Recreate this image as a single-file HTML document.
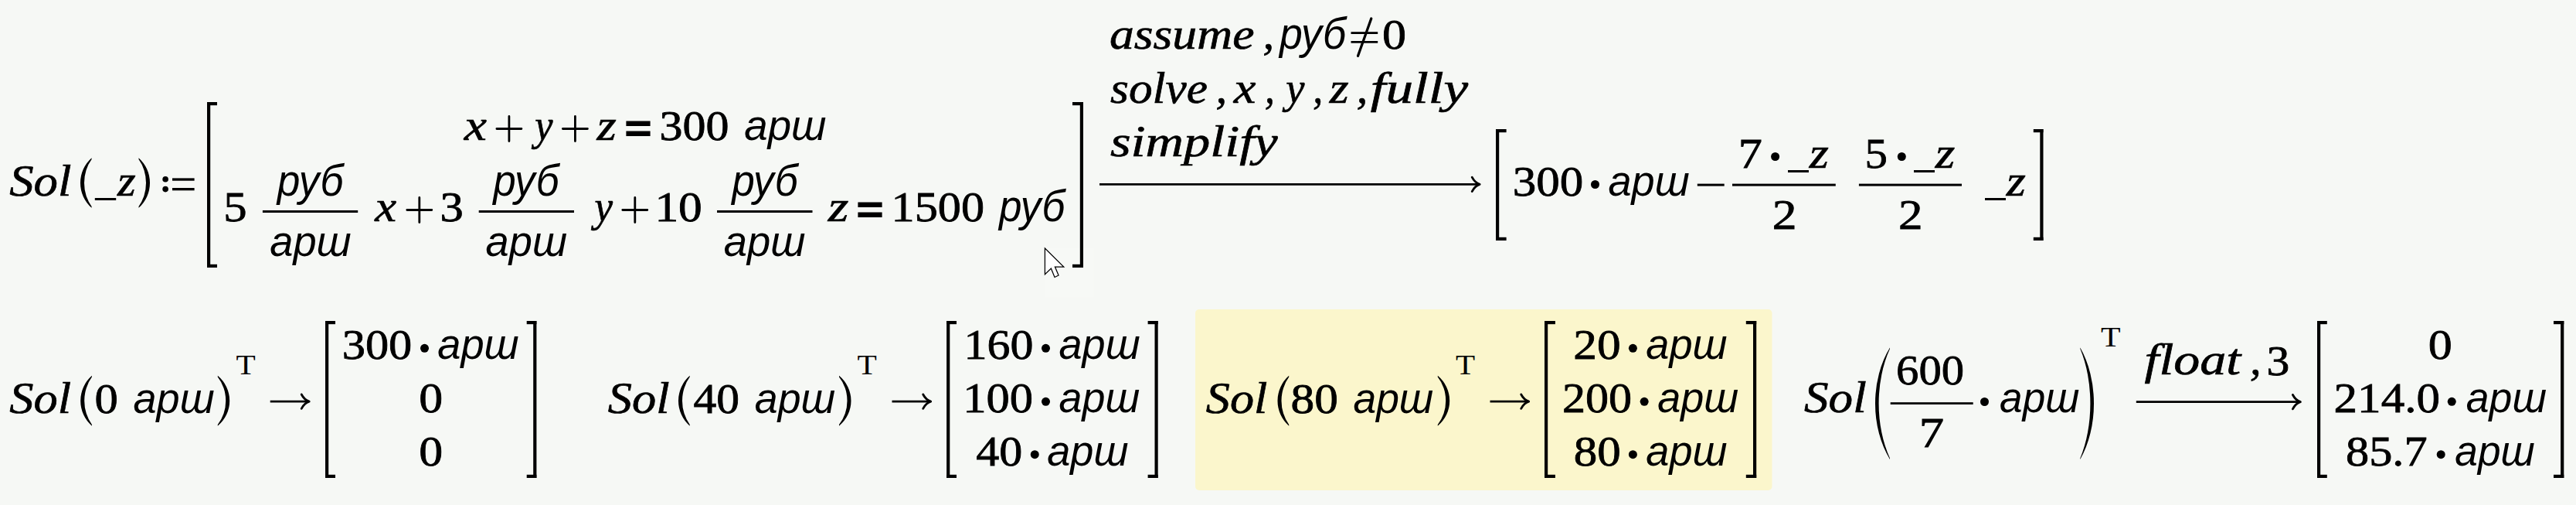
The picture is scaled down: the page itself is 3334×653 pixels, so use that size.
<!DOCTYPE html>
<html><head><meta charset="utf-8"><title>Mathcad</title><style>
html,body{margin:0;padding:0;background:#f6f8f5;}
body{width:3334px;height:653px;overflow:hidden;}
svg{display:block;}
text{fill:#000;}
.si{font-family:"Liberation Serif",serif;font-style:italic;font-size:58px;stroke:#000;stroke-width:0.7px;}
.sr{font-family:"Liberation Serif",serif;font-size:55px;stroke:#000;stroke-width:0.8px;}
.st{font-family:"Liberation Serif",serif;font-size:35px;}
.ai{font-family:"Liberation Sans",sans-serif;font-style:italic;font-size:55px;}
</style></head>
<body><svg width="3334" height="653" viewBox="0 0 3334 653">
<rect width="3334" height="653" fill="#f6f8f5"/>
<rect x="1352.00" y="321.00" width="63.50" height="63.30" fill="#f7f9f6"/>
<text class="si" x="12.27" y="253.00" textLength="80.11" lengthAdjust="spacingAndGlyphs">Sol</text>
<path d="M118.60 204.30 A43.80 43.20 0 0 0 118.60 268.70 L118.60 266.90 A38.80 46.17 0 0 1 118.60 206.10 Z" />
<rect x="122.80" y="256.00" width="27.40" height="3.00" fill="#000"/>
<text class="si" x="152.08" y="253.00" textLength="23.72" lengthAdjust="spacingAndGlyphs">z</text>
<path d="M179.50 204.30 A43.50 43.20 0 0 1 179.50 268.70 L179.50 266.90 A38.50 46.22 0 0 0 179.50 206.10 Z" />
<circle cx="214.10" cy="231.80" r="3.80"/>
<circle cx="214.10" cy="244.60" r="3.80"/>
<rect x="223.00" y="230.40" width="28.60" height="3.30" fill="#000"/>
<rect x="223.00" y="243.00" width="28.60" height="3.30" fill="#000"/>
<rect x="268.00" y="132.00" width="4.20" height="214.00" fill="#000"/>
<rect x="268.00" y="132.00" width="13.00" height="4.20" fill="#000"/>
<rect x="268.00" y="341.80" width="13.00" height="4.20" fill="#000"/>
<text class="si" x="600.80" y="180.50" textLength="29.18" lengthAdjust="spacingAndGlyphs">x</text>
<path d="M642.90 166.50 H674.90 M658.90 150.50 V182.50" stroke="#000" stroke-width="2.80" stroke-linecap="round"/>
<text class="si" x="692.37" y="180.50" textLength="23.21" lengthAdjust="spacingAndGlyphs">y</text>
<path d="M728.40 166.50 H760.40 M744.40 150.50 V182.50" stroke="#000" stroke-width="2.80" stroke-linecap="round"/>
<text class="si" x="772.53" y="180.50" textLength="25.33" lengthAdjust="spacingAndGlyphs">z</text>
<rect x="810.40" y="156.50" width="31.20" height="6.50" fill="#000"/>
<rect x="810.40" y="169.50" width="31.20" height="6.50" fill="#000"/>
<text class="sr" x="853.63" y="180.50" textLength="89.95" lengthAdjust="spacingAndGlyphs">300</text>
<text class="ai" x="963.27" y="180.50" textLength="106.22" lengthAdjust="spacingAndGlyphs">арш</text>
<text class="sr" x="289.38" y="285.50" textLength="30.29" lengthAdjust="spacingAndGlyphs">5</text>
<rect x="339.90" y="272.00" width="123.30" height="3.00" fill="#000"/>
<text class="ai" x="358.82" y="252.60" style="font-size:58px" textLength="85.63" lengthAdjust="spacingAndGlyphs">руб</text>
<text class="ai" x="349.18" y="330.70" textLength="105.50" lengthAdjust="spacingAndGlyphs">арш</text>
<rect x="619.70" y="272.00" width="123.30" height="3.00" fill="#000"/>
<text class="ai" x="638.31" y="252.60" style="font-size:58px" textLength="85.15" lengthAdjust="spacingAndGlyphs">руб</text>
<text class="ai" x="628.58" y="330.70" textLength="105.40" lengthAdjust="spacingAndGlyphs">арш</text>
<rect x="928.00" y="272.00" width="123.50" height="3.00" fill="#000"/>
<text class="ai" x="947.22" y="252.60" style="font-size:58px" textLength="85.54" lengthAdjust="spacingAndGlyphs">руб</text>
<text class="ai" x="936.78" y="330.70" textLength="105.71" lengthAdjust="spacingAndGlyphs">арш</text>
<text class="si" x="485.26" y="285.50" textLength="27.79" lengthAdjust="spacingAndGlyphs">x</text>
<path d="M526.80 271.50 H558.80 M542.80 255.50 V287.50" stroke="#000" stroke-width="2.80" stroke-linecap="round"/>
<text class="sr" x="569.50" y="285.50" textLength="30.26" lengthAdjust="spacingAndGlyphs">3</text>
<text class="si" x="769.43" y="285.50" textLength="23.54" lengthAdjust="spacingAndGlyphs">y</text>
<path d="M805.80 271.50 H837.80 M821.80 255.50 V287.50" stroke="#000" stroke-width="2.80" stroke-linecap="round"/>
<text class="sr" x="847.40" y="285.50" textLength="61.44" lengthAdjust="spacingAndGlyphs">10</text>
<text class="si" x="1071.77" y="285.50" textLength="26.63" lengthAdjust="spacingAndGlyphs">z</text>
<rect x="1110.40" y="261.50" width="31.20" height="6.50" fill="#000"/>
<rect x="1110.40" y="274.50" width="31.20" height="6.50" fill="#000"/>
<text class="sr" x="1153.61" y="285.50" textLength="120.38" lengthAdjust="spacingAndGlyphs">1500</text>
<text class="ai" x="1293.11" y="285.50" style="font-size:58px" textLength="85.34" lengthAdjust="spacingAndGlyphs">руб</text>
<rect x="1397.80" y="132.00" width="4.20" height="214.00" fill="#000"/>
<rect x="1388.00" y="132.00" width="14.00" height="4.20" fill="#000"/>
<rect x="1388.00" y="341.80" width="14.00" height="4.20" fill="#000"/>
<text class="si" x="1435.90" y="63.00" textLength="187.53" lengthAdjust="spacingAndGlyphs">assume</text>
<text class="si" x="1634.56" y="63.00" textLength="14.63" lengthAdjust="spacingAndGlyphs">,</text>
<text class="ai" x="1656.02" y="62.70" style="font-size:58px" textLength="86.12" lengthAdjust="spacingAndGlyphs">руб</text>
<rect x="1748.50" y="41.20" width="34.70" height="2.80" fill="#000"/>
<rect x="1748.50" y="53.00" width="34.70" height="2.70" fill="#000"/>
<path d="M1774.8 23.9 L1757.5 72.4" stroke="#000" stroke-width="3.2" stroke-linecap="round"/>
<text class="sr" x="1789.14" y="63.00" textLength="31.03" lengthAdjust="spacingAndGlyphs">0</text>
<text class="si" x="1437.05" y="133.00" textLength="125.92" lengthAdjust="spacingAndGlyphs">solve</text>
<text class="si" x="1573.46" y="133.00" textLength="14.63" lengthAdjust="spacingAndGlyphs">,</text>
<text class="si" x="1596.79" y="133.00" textLength="28.68" lengthAdjust="spacingAndGlyphs">x</text>
<text class="si" x="1637.09" y="133.00" textLength="12.84" lengthAdjust="spacingAndGlyphs">,</text>
<text class="si" x="1664.14" y="133.00" textLength="24.13" lengthAdjust="spacingAndGlyphs">y</text>
<text class="si" x="1699.27" y="133.00" textLength="13.00" lengthAdjust="spacingAndGlyphs">,</text>
<text class="si" x="1720.72" y="133.00" textLength="24.93" lengthAdjust="spacingAndGlyphs">z</text>
<text class="si" x="1755.68" y="133.00" textLength="14.47" lengthAdjust="spacingAndGlyphs">,</text>
<text class="si" x="1773.70" y="133.00" textLength="126.46" lengthAdjust="spacingAndGlyphs">fully</text>
<text class="si" x="1436.96" y="202.00" textLength="216.70" lengthAdjust="spacingAndGlyphs">simplify</text>
<path d="M1423.00 238.40 H1914.00" stroke="#000" stroke-width="2.80" fill="none"/>
<path d="M1905.20 229.20 Q1909.00 236.40 1915.20 238.40 Q1909.00 240.40 1905.20 247.60" stroke="#000" stroke-width="2.80" fill="none" stroke-linecap="round" stroke-linejoin="round"/>
<rect x="1936.00" y="167.00" width="4.20" height="144.00" fill="#000"/>
<rect x="1936.00" y="167.00" width="13.60" height="4.20" fill="#000"/>
<rect x="1936.00" y="306.80" width="13.60" height="4.20" fill="#000"/>
<text class="sr" x="1957.78" y="253.00" textLength="91.54" lengthAdjust="spacingAndGlyphs">300</text>
<circle cx="2064.50" cy="238.50" r="5.50"/>
<text class="ai" x="2081.48" y="253.00" textLength="105.19" lengthAdjust="spacingAndGlyphs">арш</text>
<rect x="2196.80" y="237.60" width="34.90" height="3.00" fill="#000"/>
<rect x="2242.00" y="237.60" width="133.80" height="3.00" fill="#000"/>
<text class="sr" x="2249.70" y="217.00" textLength="31.09" lengthAdjust="spacingAndGlyphs">7</text>
<circle cx="2297.60" cy="202.50" r="5.50"/>
<rect x="2314.00" y="220.00" width="27.00" height="3.00" fill="#000"/>
<text class="si" x="2341.73" y="217.00" textLength="25.13" lengthAdjust="spacingAndGlyphs">z</text>
<text class="sr" x="2293.70" y="295.60" textLength="31.81" lengthAdjust="spacingAndGlyphs">2</text>
<rect x="2405.90" y="237.60" width="133.10" height="3.00" fill="#000"/>
<text class="sr" x="2413.58" y="217.00" textLength="29.42" lengthAdjust="spacingAndGlyphs">5</text>
<circle cx="2461.30" cy="202.50" r="5.50"/>
<rect x="2477.00" y="220.00" width="27.00" height="3.00" fill="#000"/>
<text class="si" x="2504.74" y="217.00" textLength="25.53" lengthAdjust="spacingAndGlyphs">z</text>
<text class="sr" x="2456.93" y="295.60" textLength="31.56" lengthAdjust="spacingAndGlyphs">2</text>
<rect x="2569.00" y="256.00" width="27.00" height="3.00" fill="#000"/>
<text class="si" x="2596.73" y="252.50" textLength="25.13" lengthAdjust="spacingAndGlyphs">z</text>
<rect x="2640.30" y="167.00" width="4.20" height="144.00" fill="#000"/>
<rect x="2631.80" y="167.00" width="12.70" height="4.20" fill="#000"/>
<rect x="2631.80" y="306.80" width="12.70" height="4.20" fill="#000"/>
<path d="M1352.40 321.10 L1352.40 354.70 L1360.38 347.14 L1365.00 358.48 L1370.04 355.96 L1365.42 345.04 L1376.76 345.04 Z" fill="#fff" stroke="#000" stroke-width="1.25" stroke-linejoin="miter"/>
<rect x="1547.00" y="400.00" width="746.50" height="234.00" fill="#fbf6cc" rx="5"/>
<text class="si" x="12.27" y="534.00" textLength="79.70" lengthAdjust="spacingAndGlyphs">Sol</text>
<path d="M118.90 485.80 A44.10 43.54 0 0 0 118.90 550.70 L118.90 548.90 A39.10 46.49 0 0 1 118.90 487.60 Z" />
<text class="sr" x="122.49" y="534.00" textLength="30.32" lengthAdjust="spacingAndGlyphs">0</text>
<text class="ai" x="172.48" y="534.00" textLength="105.09" lengthAdjust="spacingAndGlyphs">арш</text>
<path d="M281.80 485.80 A46.20 43.54 0 0 1 281.80 550.70 L281.80 548.90 A41.20 46.15 0 0 0 281.80 487.60 Z" />
<text class="st" x="305.45" y="484.00" textLength="25.23" lengthAdjust="spacingAndGlyphs">T</text>
<path d="M349.70 519.20 H399.00" stroke="#000" stroke-width="2.80" fill="none"/>
<path d="M390.20 510.00 Q394.00 517.20 400.20 519.20 Q394.00 521.20 390.20 528.40" stroke="#000" stroke-width="2.80" fill="none" stroke-linecap="round" stroke-linejoin="round"/>
<rect x="421.00" y="415.00" width="4.20" height="203.00" fill="#000"/>
<rect x="421.00" y="415.00" width="13.00" height="4.20" fill="#000"/>
<rect x="421.00" y="613.80" width="13.00" height="4.20" fill="#000"/>
<rect x="690.20" y="415.00" width="4.20" height="203.00" fill="#000"/>
<rect x="681.70" y="415.00" width="12.70" height="4.20" fill="#000"/>
<rect x="681.70" y="613.80" width="12.70" height="4.20" fill="#000"/>
<text class="sr" x="442.71" y="464.20" textLength="90.59" lengthAdjust="spacingAndGlyphs">300</text>
<circle cx="549.50" cy="450.30" r="5.50"/>
<text class="ai" x="566.18" y="464.20" textLength="105.50" lengthAdjust="spacingAndGlyphs">арш</text>
<text class="sr" x="542.25" y="533.20" textLength="30.91" lengthAdjust="spacingAndGlyphs">0</text>
<text class="sr" x="542.25" y="601.60" textLength="30.91" lengthAdjust="spacingAndGlyphs">0</text>
<text class="si" x="786.77" y="534.00" textLength="79.80" lengthAdjust="spacingAndGlyphs">Sol</text>
<path d="M892.70 485.80 A44.10 43.54 0 0 0 892.70 550.70 L892.70 548.90 A39.10 46.49 0 0 1 892.70 487.60 Z" />
<text class="sr" x="897.54" y="534.00" textLength="59.53" lengthAdjust="spacingAndGlyphs">40</text>
<text class="ai" x="976.79" y="534.00" textLength="104.38" lengthAdjust="spacingAndGlyphs">арш</text>
<path d="M1086.00 485.80 A46.50 43.54 0 0 1 1086.00 550.70 L1086.00 548.90 A41.50 46.10 0 0 0 1086.00 487.60 Z" />
<text class="st" x="1109.55" y="484.00" textLength="25.34" lengthAdjust="spacingAndGlyphs">T</text>
<path d="M1154.50 519.20 H1203.50" stroke="#000" stroke-width="2.80" fill="none"/>
<path d="M1194.70 510.00 Q1198.50 517.20 1204.70 519.20 Q1198.50 521.20 1194.70 528.40" stroke="#000" stroke-width="2.80" fill="none" stroke-linecap="round" stroke-linejoin="round"/>
<rect x="1225.10" y="415.00" width="4.20" height="203.00" fill="#000"/>
<rect x="1225.10" y="415.00" width="12.90" height="4.20" fill="#000"/>
<rect x="1225.10" y="613.80" width="12.90" height="4.20" fill="#000"/>
<rect x="1494.50" y="415.00" width="4.20" height="203.00" fill="#000"/>
<rect x="1485.60" y="415.00" width="13.10" height="4.20" fill="#000"/>
<rect x="1485.60" y="613.80" width="13.10" height="4.20" fill="#000"/>
<text class="sr" x="1247.63" y="464.20" textLength="89.95" lengthAdjust="spacingAndGlyphs">160</text>
<circle cx="1353.50" cy="450.30" r="5.50"/>
<text class="ai" x="1370.48" y="464.20" textLength="105.09" lengthAdjust="spacingAndGlyphs">арш</text>
<text class="sr" x="1246.28" y="533.20" textLength="90.83" lengthAdjust="spacingAndGlyphs">100</text>
<circle cx="1353.50" cy="519.30" r="5.50"/>
<text class="ai" x="1370.49" y="533.20" textLength="104.68" lengthAdjust="spacingAndGlyphs">арш</text>
<text class="sr" x="1263.23" y="601.60" textLength="60.06" lengthAdjust="spacingAndGlyphs">40</text>
<circle cx="1339.25" cy="587.70" r="5.50"/>
<text class="ai" x="1355.18" y="601.60" textLength="105.30" lengthAdjust="spacingAndGlyphs">арш</text>
<text class="si" x="1560.87" y="534.00" textLength="79.50" lengthAdjust="spacingAndGlyphs">Sol</text>
<path d="M1668.20 485.80 A44.10 43.54 0 0 0 1668.20 550.70 L1668.20 548.90 A39.10 46.49 0 0 1 1668.20 487.60 Z" />
<text class="sr" x="1670.57" y="534.00" textLength="61.27" lengthAdjust="spacingAndGlyphs">80</text>
<text class="ai" x="1751.40" y="534.00" textLength="103.87" lengthAdjust="spacingAndGlyphs">арш</text>
<path d="M1860.80 485.80 A46.20 43.54 0 0 1 1860.80 550.70 L1860.80 548.90 A41.20 46.15 0 0 0 1860.80 487.60 Z" />
<text class="st" x="1883.96" y="484.00" textLength="25.13" lengthAdjust="spacingAndGlyphs">T</text>
<path d="M1928.50 519.20 H1977.50" stroke="#000" stroke-width="2.80" fill="none"/>
<path d="M1968.70 510.00 Q1972.50 517.20 1978.70 519.20 Q1972.50 521.20 1968.70 528.40" stroke="#000" stroke-width="2.80" fill="none" stroke-linecap="round" stroke-linejoin="round"/>
<rect x="1999.00" y="415.00" width="4.20" height="203.00" fill="#000"/>
<rect x="1999.00" y="415.00" width="13.90" height="4.20" fill="#000"/>
<rect x="1999.00" y="613.80" width="13.90" height="4.20" fill="#000"/>
<rect x="2269.00" y="415.00" width="4.20" height="203.00" fill="#000"/>
<rect x="2259.80" y="415.00" width="13.40" height="4.20" fill="#000"/>
<rect x="2259.80" y="613.80" width="13.40" height="4.20" fill="#000"/>
<text class="sr" x="2036.30" y="464.20" textLength="61.33" lengthAdjust="spacingAndGlyphs">20</text>
<circle cx="2113.40" cy="450.30" r="5.50"/>
<text class="ai" x="2130.28" y="464.20" textLength="105.30" lengthAdjust="spacingAndGlyphs">арш</text>
<text class="sr" x="2021.96" y="533.20" textLength="90.13" lengthAdjust="spacingAndGlyphs">200</text>
<circle cx="2128.15" cy="519.30" r="5.50"/>
<text class="ai" x="2145.19" y="533.20" textLength="104.99" lengthAdjust="spacingAndGlyphs">арш</text>
<text class="sr" x="2036.68" y="601.60" textLength="60.94" lengthAdjust="spacingAndGlyphs">80</text>
<circle cx="2113.40" cy="587.70" r="5.50"/>
<text class="ai" x="2130.28" y="601.60" textLength="105.30" lengthAdjust="spacingAndGlyphs">арш</text>
<text class="si" x="2335.06" y="532.70" textLength="80.63" lengthAdjust="spacingAndGlyphs">Sol</text>
<path d="M2446.00 449.50 A76.00 109.23 0 0 0 2446.00 594.00 L2446.00 592.50 A71.40 117.48 0 0 1 2446.00 451.00 Z" />
<text class="sr" x="2454.08" y="497.00" textLength="87.95" lengthAdjust="spacingAndGlyphs">600</text>
<rect x="2446.70" y="520.20" width="107.00" height="2.80" fill="#000"/>
<text class="sr" x="2483.74" y="578.30" textLength="32.32" lengthAdjust="spacingAndGlyphs">7</text>
<circle cx="2568.50" cy="519.50" r="5.50"/>
<text class="ai" x="2588.11" y="532.70" textLength="103.15" lengthAdjust="spacingAndGlyphs">арш</text>
<path d="M2692.30 449.50 A70.80 109.23 0 0 1 2692.30 594.00 L2692.30 592.50 A66.20 118.48 0 0 0 2692.30 451.00 Z" />
<text class="st" x="2719.04" y="448.00" textLength="25.55" lengthAdjust="spacingAndGlyphs">T</text>
<text class="si" x="2775.64" y="484.00" textLength="124.50" lengthAdjust="spacingAndGlyphs">float</text>
<text class="si" x="2912.06" y="484.00" textLength="14.63" lengthAdjust="spacingAndGlyphs">,</text>
<text class="sr" x="2933.55" y="485.00" textLength="29.78" lengthAdjust="spacingAndGlyphs">3</text>
<path d="M2764.80 519.70 H2976.20" stroke="#000" stroke-width="2.80" fill="none"/>
<path d="M2967.40 510.50 Q2971.20 517.70 2977.40 519.70 Q2971.20 521.70 2967.40 528.90" stroke="#000" stroke-width="2.80" fill="none" stroke-linecap="round" stroke-linejoin="round"/>
<rect x="2999.00" y="415.00" width="4.20" height="203.00" fill="#000"/>
<rect x="2999.00" y="415.00" width="12.80" height="4.20" fill="#000"/>
<rect x="2999.00" y="613.80" width="12.80" height="4.20" fill="#000"/>
<rect x="3314.10" y="415.00" width="4.20" height="203.00" fill="#000"/>
<rect x="3305.00" y="415.00" width="13.30" height="4.20" fill="#000"/>
<rect x="3305.00" y="613.80" width="13.30" height="4.20" fill="#000"/>
<text class="sr" x="3142.84" y="464.20" textLength="31.03" lengthAdjust="spacingAndGlyphs">0</text>
<text class="sr" x="3020.62" y="533.20" textLength="137.31" lengthAdjust="spacingAndGlyphs">214.0</text>
<circle cx="3173.25" cy="519.30" r="5.50"/>
<text class="ai" x="3191.80" y="533.20" textLength="104.17" lengthAdjust="spacingAndGlyphs">арш</text>
<text class="sr" x="3036.00" y="601.60" textLength="105.53" lengthAdjust="spacingAndGlyphs">85.7</text>
<circle cx="3159.20" cy="587.70" r="5.50"/>
<text class="ai" x="3177.30" y="601.60" textLength="103.36" lengthAdjust="spacingAndGlyphs">арш</text>
</svg></body></html>
